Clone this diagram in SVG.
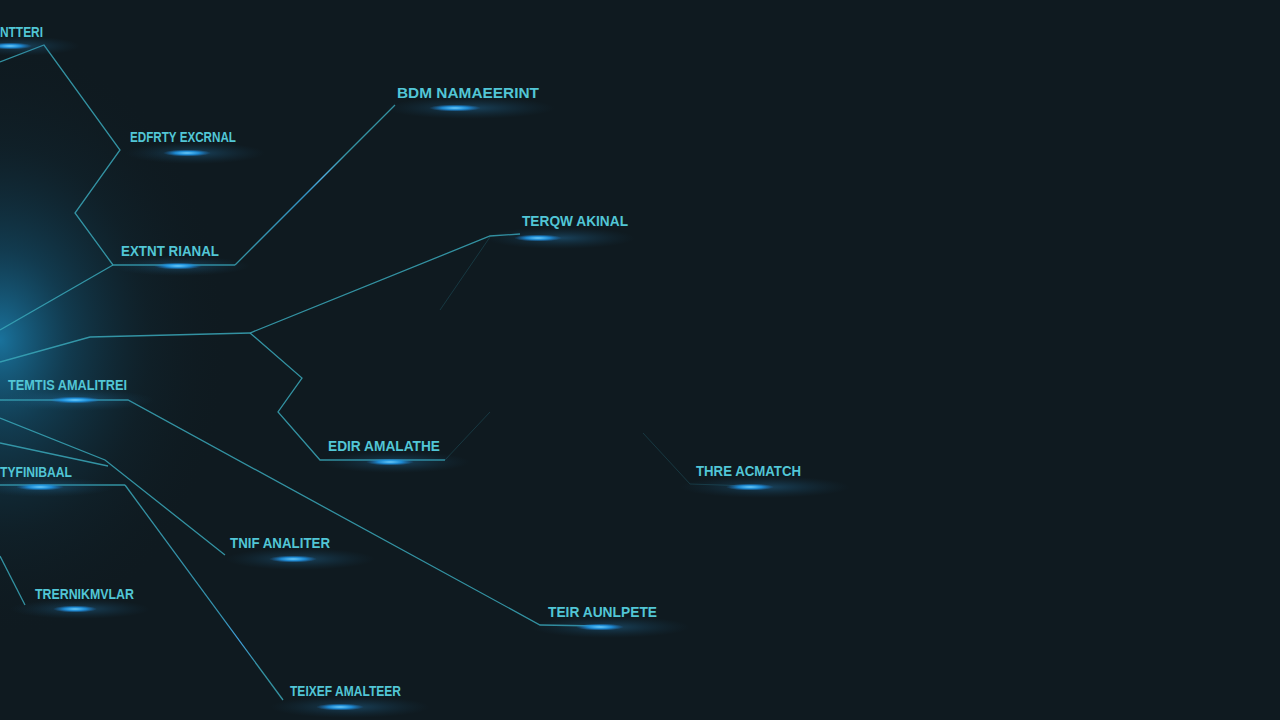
<svg xmlns="http://www.w3.org/2000/svg" width="1280" height="720" viewBox="0 0 1280 720">
<defs>
<radialGradient id="bgglow" cx="0" cy="0" r="1" gradientUnits="userSpaceOnUse" gradientTransform="translate(0,340) scale(230,300)">
<stop offset="0" stop-color="#1c88bb" stop-opacity="0.8"/>
<stop offset="0.3" stop-color="#156389" stop-opacity="0.45"/>
<stop offset="0.65" stop-color="#12384a" stop-opacity="0.18"/>
<stop offset="1" stop-color="#0f1a20" stop-opacity="0"/>
</radialGradient>
<radialGradient id="halo">
<stop offset="0" stop-color="#2a8fd0" stop-opacity="0.35"/>
<stop offset="1" stop-color="#1a5070" stop-opacity="0"/>
</radialGradient>
<radialGradient id="core">
<stop offset="0" stop-color="#6fd0ff" stop-opacity="1"/>
<stop offset="0.5" stop-color="#1f9cf0" stop-opacity="0.8"/>
<stop offset="1" stop-color="#1f7cd0" stop-opacity="0"/>
</radialGradient>
<linearGradient id="bright1" x1="235" y1="265" x2="395" y2="105" gradientUnits="userSpaceOnUse">
<stop offset="0" stop-color="#3aa7b8"/>
<stop offset="0.45" stop-color="#3aa7e0"/>
<stop offset="0.55" stop-color="#5ac8ff"/>
<stop offset="0.7" stop-color="#3aa7b8"/>
</linearGradient>
<linearGradient id="bright2" x1="125" y1="485" x2="283" y2="700" gradientUnits="userSpaceOnUse">
<stop offset="0" stop-color="#3aa7b8"/>
<stop offset="0.6" stop-color="#3aa7c8"/>
<stop offset="0.72" stop-color="#4ab8ff"/>
<stop offset="0.85" stop-color="#3aa7b8"/>
</linearGradient>
<style>
.lbl{font-family:"Liberation Sans","DejaVu Sans",sans-serif;font-weight:bold;font-size:14px;fill:#52c6d6;}
.ln{fill:none;stroke:#3aa7b8;stroke-width:1.3;stroke-opacity:0.85;}
.fd{fill:none;stroke:#2a7f90;stroke-width:1;stroke-opacity:0.3;}
</style>
</defs>
<rect width="1280" height="720" fill="#0f1a20"/>
<rect width="1280" height="720" fill="url(#bgglow)"/>

<g id="connectors">
<polyline class="ln" points="0,62 44,45 120,150 75,213 113,265 235,265"/>
<polyline class="ln" points="235,265 395,105" style="stroke:url(#bright1)"/>
<polyline class="ln" points="113,265 0,330"/>
<polyline class="ln" points="0,362 90,337 250,333 490,236 520,234"/>
<polyline class="ln" points="250,333 302,378 278,412 320,460 445,460"/>
<polyline class="fd" points="445,460 490,412"/>
<polyline class="fd" points="490,237 440,310"/>
<polyline class="ln" points="0,400 128,400 540,625 600,626"/>
<polyline class="ln" points="0,418 105,460 225,555"/>
<polyline class="ln" points="0,443 108,466"/>
<polyline class="ln" points="0,485 125,485"/>
<polyline class="ln" points="125,485 283,700" style="stroke:url(#bright2)"/>
<polyline class="ln" points="0,556 25,605"/>
<polyline class="fd" points="643,433 690,484 750,486"/>
</g>

<g id="n-ntteri">
<ellipse cx="20" cy="46" rx="60" ry="10" fill="url(#halo)"/>
<ellipse cx="10" cy="46" rx="22" ry="3.5" fill="url(#core)"/>
<text class="lbl" x="0" y="37" textLength="43" lengthAdjust="spacingAndGlyphs">NTTERI</text>
</g>
<g id="n-edfrty">
<ellipse cx="195" cy="153" rx="70" ry="11" fill="url(#halo)"/>
<ellipse cx="187" cy="153" rx="24" ry="3.5" fill="url(#core)"/>
<text class="lbl" x="130" y="142" textLength="106" lengthAdjust="spacingAndGlyphs">EDFRTY EXCRNAL</text>
</g>
<g id="n-bdm">
<ellipse cx="470" cy="108" rx="85" ry="11" fill="url(#halo)"/>
<ellipse cx="455" cy="108" rx="26" ry="3.5" fill="url(#core)"/>
<text class="lbl" x="397" y="98" textLength="142" lengthAdjust="spacingAndGlyphs">BDM NAMAEERINT</text>
</g>
<g id="n-terqw">
<ellipse cx="560" cy="238" rx="75" ry="11" fill="url(#halo)"/>
<ellipse cx="538" cy="238" rx="24" ry="3.5" fill="url(#core)"/>
<text class="lbl" x="522" y="226" textLength="106" lengthAdjust="spacingAndGlyphs">TERQW AKINAL</text>
</g>
<g id="n-extnt">
<ellipse cx="180" cy="266" rx="70" ry="10" fill="url(#halo)"/>
<ellipse cx="178" cy="266" rx="24" ry="3.5" fill="url(#core)"/>
<text class="lbl" x="121" y="256" textLength="98" lengthAdjust="spacingAndGlyphs">EXTNT RIANAL</text>
</g>
<g id="n-temtis">
<ellipse cx="75" cy="400" rx="80" ry="11" fill="url(#halo)"/>
<ellipse cx="75" cy="400" rx="26" ry="3.5" fill="url(#core)"/>
<text class="lbl" x="8" y="390" textLength="119" lengthAdjust="spacingAndGlyphs">TEMTIS AMALITREI</text>
</g>
<g id="n-edir">
<ellipse cx="395" cy="462" rx="75" ry="11" fill="url(#halo)"/>
<ellipse cx="390" cy="462" rx="24" ry="3.5" fill="url(#core)"/>
<text class="lbl" x="328" y="451" textLength="112" lengthAdjust="spacingAndGlyphs">EDIR AMALATHE</text>
</g>
<g id="n-thre">
<ellipse cx="765" cy="487" rx="85" ry="11" fill="url(#halo)"/>
<ellipse cx="750" cy="487" rx="24" ry="3.5" fill="url(#core)"/>
<text class="lbl" x="696" y="476" textLength="105" lengthAdjust="spacingAndGlyphs">THRE ACMATCH</text>
</g>
<g id="n-tyfinibaal">
<ellipse cx="45" cy="487" rx="70" ry="10" fill="url(#halo)"/>
<ellipse cx="40" cy="487" rx="24" ry="3.5" fill="url(#core)"/>
<text class="lbl" x="0" y="477" textLength="72" lengthAdjust="spacingAndGlyphs">TYFINIBAAL</text>
</g>
<g id="n-tnif">
<ellipse cx="300" cy="559" rx="75" ry="11" fill="url(#halo)"/>
<ellipse cx="293" cy="559" rx="24" ry="3.5" fill="url(#core)"/>
<text class="lbl" x="230" y="548" textLength="100" lengthAdjust="spacingAndGlyphs">TNIF ANALITER</text>
</g>
<g id="n-trernik">
<ellipse cx="80" cy="609" rx="70" ry="10" fill="url(#halo)"/>
<ellipse cx="75" cy="609" rx="22" ry="3.5" fill="url(#core)"/>
<text class="lbl" x="35" y="599" textLength="99" lengthAdjust="spacingAndGlyphs">TRERNIKMVLAR</text>
</g>
<g id="n-teir">
<ellipse cx="610" cy="627" rx="80" ry="11" fill="url(#halo)"/>
<ellipse cx="600" cy="627" rx="24" ry="3.5" fill="url(#core)"/>
<text class="lbl" x="548" y="617" textLength="109" lengthAdjust="spacingAndGlyphs">TEIR AUNLPETE</text>
</g>
<g id="n-teixef">
<ellipse cx="350" cy="707" rx="80" ry="11" fill="url(#halo)"/>
<ellipse cx="340" cy="707" rx="24" ry="3.5" fill="url(#core)"/>
<text class="lbl" x="290" y="696" textLength="111" lengthAdjust="spacingAndGlyphs">TEIXEF AMALTEER</text>
</g>
</svg>
